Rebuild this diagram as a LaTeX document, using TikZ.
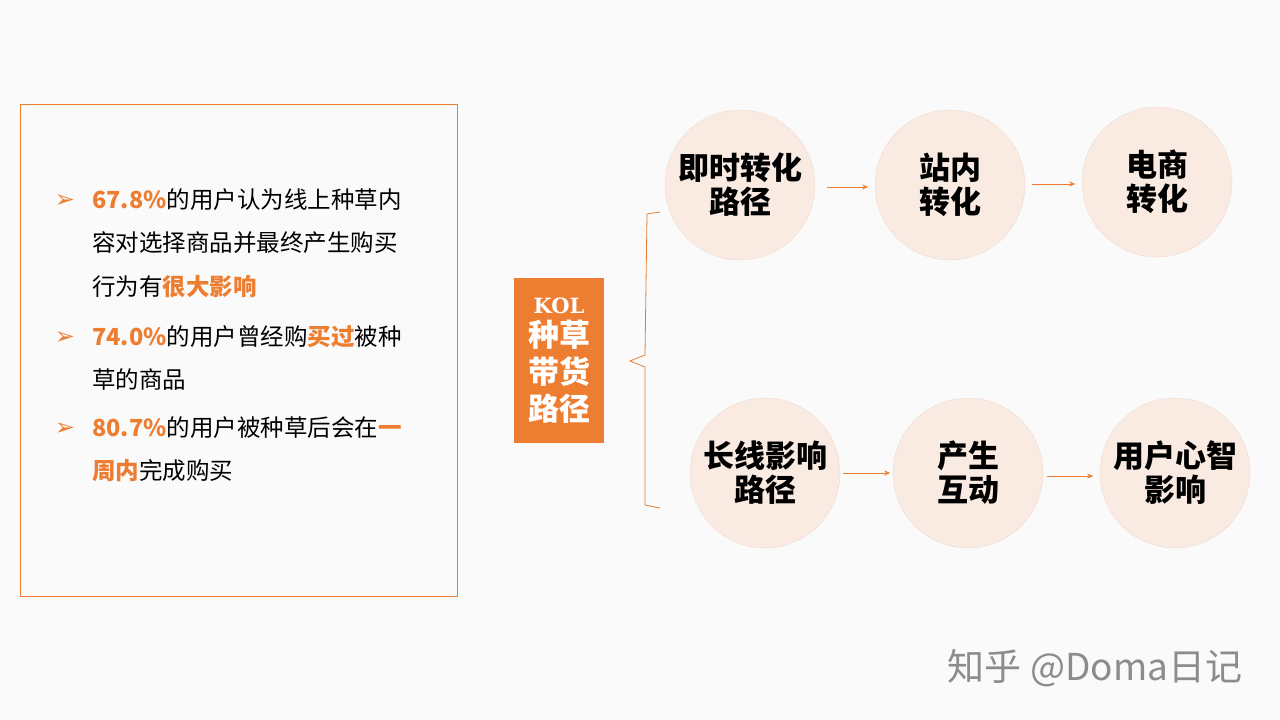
\documentclass[tikz,border=0pt]{standalone}
\usepackage{fontspec}
\setmainfont{Noto Sans CJK SC}
\newfontfamily\djfont{DejaVu Sans}
\newfontfamily\monob{DejaVu Serif}
\usetikzlibrary{arrows.meta}
\definecolor{org}{HTML}{ED7D31}
\definecolor{peach}{HTML}{F9EAE2}
\definecolor{rim}{HTML}{E0B9A0}
\newcommand{\hl}[1]{\textcolor{org}{\bfseries #1}}
\begin{document}
\begin{tikzpicture}[x=1pt,y=-1pt,
  circ/.style={circle,fill=peach,draw=rim,densely dotted,minimum size=150pt,inner sep=0pt,align=center,font=\fontsize{31}{34}\selectfont\bfseries},
  arr/.style={org,line width=0.8pt,-{Stealth[length=6pt,width=5pt]}},
  txt/.style={anchor=west,inner sep=0pt,font=\fontsize{23.5}{24}\selectfont},
  bul/.style={anchor=center,inner sep=0pt,text=org,font=\djfont\fontsize{24}{24}\selectfont}]
\fill[black!2] (0,0) rectangle (1280,720);
\useasboundingbox (0,0) rectangle (1280,720);
\node[draw=org,line width=0.6pt,minimum width=437pt,minimum height=492pt,anchor=north west,inner sep=0pt] (box) at (20,104) {};
\node[bul] (b1) at (65,201) {➢};
\node[txt] (t1) at (92,200) {\hl{67.8\%}的用户认为线上种草内};
\node[txt] (t2) at (92,243) {容对选择商品并最终产生购买};
\node[txt] (t3) at (92,287) {行为有\hl{很大影响}};
\node[bul] (b2) at (65,338) {➢};
\node[txt] (t4) at (92,337) {\hl{74.0\%}的用户曾经购\hl{买过}被种};
\node[txt] (t5) at (92,380) {草的商品};
\node[bul] (b3) at (65,429) {➢};
\node[txt] (t6) at (92,428) {\hl{80.7\%}的用户被种草后会在\hl{一}};
\node[txt] (t7) at (92,471) {\hl{周内}完成购买};
\node[fill=org,minimum width=90pt,minimum height=165pt,inner sep=0pt,text=white,align=center,font=\fontsize{31}{37}\selectfont\bfseries] (kol) at (559,360.5) {\monob\fontsize{21}{30}\selectfont KOL\\[-4pt]\normalfont\bfseries\fontsize{31}{37}\selectfont 种草\\带货\\路径};
\coordinate (bt) at (660,212);
\coordinate (bb) at (660,508);
\coordinate (bm) at (630,361);
\draw[org!80!brown,line width=0.8pt] (bt) -- (647,214) -- (645,355) -- (bm) -- (645,367) -- (645,505) -- (bb);
\node[circ] (c1) at (740,185) {即时转化\\路径};
\node[circ] (c2) at (950,185) {站内\\转化};
\node[circ] (c3) at (1157,182) {电商\\转化};
\node[circ] (c4) at (765,473) {长线影响\\路径};
\node[circ] (c5) at (968,473) {产生\\互动};
\node[circ] (c6) at (1175,473) {用户心智\\影响};
\draw[arr] (c1.east)++(12,2) -- ++(41,0);
\draw[arr] (c2.east)++(7,-1) -- ++(43,0);
\draw[arr] (c4.east)++(3,0) -- ++(47,0);
\draw[arr] (c5.east)++(4,3) -- ++(46,0);
\node[text=black!45,font=\fontsize{37}{37}\selectfont] (wm) at (1095,668) {知乎 @Doma日记};
\end{tikzpicture}
\end{document}
